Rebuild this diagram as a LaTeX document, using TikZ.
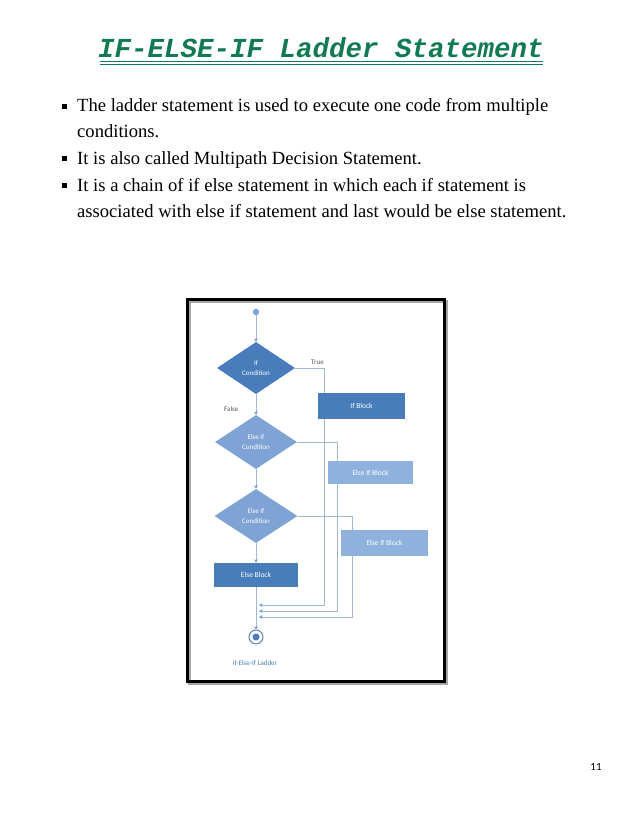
\documentclass[tikz,border=0pt]{standalone}
\usepackage{fontspec}
\setmainfont{Liberation Serif}
\newfontfamily\titlefont{Liberation Mono}
\newfontfamily\chartfont{Carlito}
\usetikzlibrary{
	arrows.meta,
	shapes.geometric,
	backgrounds
}
\definecolor{titlegreen}{RGB}{18,122,82}
\definecolor{darkblue}{RGB}{72,124,186}
\definecolor{lightblue}{RGB}{126,163,212}
\definecolor{paleblue}{RGB}{143,177,222}
\definecolor{wireblue}{RGB}{158,185,216}
\definecolor{labelgray}{RGB}{85,85,85}

\begin{document}
\begin{tikzpicture}[
			x=1pt, y=-1pt,
			font=\fontsize{18.6}{22}\selectfont,
			linha/.style={anchor=base west, inner sep=0},
			bala/.style={fill=black, minimum size=5pt, inner sep=0},
			cond/.style={diamond, fill=#1, text=white, inner sep=0, align=center, font=\chartfont\fontsize{7}{10}\selectfont},
			bloco/.style={fill=#1, text=white, inner sep=0, font=\chartfont\fontsize{7.5}{9}\selectfont},
			rot/.style={text=labelgray, inner sep=1pt, font=\chartfont\fontsize{7}{8}\selectfont},
			>={Stealth[length=3.5pt, width=3.5pt, color=darkblue!80]},
			fl/.style={->, wireblue, line width=1pt}
		]
		\useasboundingbox (0,0) rectangle (638,826);

		% titulo
		\node[anchor=base, inner sep=0, text=titlegreen, font=\titlefont\bfseries\itshape\fontsize{27.5}{30}\selectfont] (titulo) at (321,58) {IF-ELSE-IF Ladder Statement};
		\draw[titlegreen, line width=1.4pt] (100,61.6) -- (543,61.6);
		\draw[titlegreen, line width=1.4pt] (100,64.8) -- (543,64.8);

		% itens
		\node[bala] (b1) at (64.5,107) {};
		\node[bala] (b2) at (64.5,159) {};
		\node[bala] (b3) at (64.5,186) {};
		\node[linha] (l1) at (77,112) {The ladder statement is used to execute one code from multiple};
		\node[linha] (l2) at (77,138) {conditions.};
		\node[linha] (l3) at (77,164.5) {It is also called Multipath Decision Statement.};
		\node[linha] (l4) at (77,191.5) {It is a chain of if else statement in which each if statement is};
		\node[linha] (l5) at (77,218) {associated with else if statement and last would be else statement.};

		% moldura
		\draw[black!35, line width=3pt] (189,301) rectangle (446,683);
		\draw[black, line width=3pt] (187,299) rectangle (444,681);

		% fluxograma
		\node[circle, fill=lightblue, minimum size=6.5pt, inner sep=0] (inicio) at (256,312) {};
		\node[cond=darkblue, minimum width=78pt, minimum height=52pt] (if) at (256,368) {If\\Condition};
		\node[cond=lightblue, minimum width=82pt, minimum height=54pt] (elif1) at (256,442) {Else If\\Condition};
		\node[cond=lightblue, minimum width=83pt, minimum height=54pt] (elif2) at (256,516) {Else If\\Condition};
		\node[bloco=darkblue, minimum width=84pt, minimum height=24pt] (senao) at (256,575) {Else Block};
		\node[circle, draw=darkblue, line width=0.9pt, fill=white, minimum size=14pt, inner sep=0] (fim) at (256,637) {};
		\fill[darkblue] (fim.center) circle (3.5pt);
		\node[text=darkblue, font=\chartfont\fontsize{7}{8}\selectfont] (legenda) at (255,663) {If-Else-If Ladder};

		\coordinate (r1) at (324,605);
		\coordinate (r2) at (337,611);
		\coordinate (r3) at (352,617);
		\coordinate (m1) at (259,605);
		\coordinate (m2) at (259,611);
		\coordinate (m3) at (259,617);

		\draw[fl] (inicio) -- (if.north);
		\draw[fl] (if.south) -- (elif1.north);
		\draw[fl] (elif1.south) -- (elif2.north);
		\draw[fl] (elif2.south) -- (senao.north);
		\draw[fl] (senao.south) -- (fim.north);
		\draw[fl] (if.east) -| (r1) -- (m1);
		\draw[fl] (elif1.east) -| (r2) -- (m2);
		\draw[fl] (elif2.east) -| (r3) -- (m3);

		\node[bloco=darkblue, minimum width=87pt, minimum height=26pt] (ifbloco) at (361.5,406) {If Block};
		\node[bloco=paleblue, minimum width=85pt, minimum height=23pt] (elifbloco1) at (370.5,472.5) {Else If Block};
		\node[bloco=paleblue, minimum width=87pt, minimum height=26pt] (elifbloco2) at (384.5,543) {Else If Block};

		\node[rot, anchor=base west] (verdade) at (310,364) {True};
		\node[rot, anchor=base west] (falso) at (223,411) {False};

		% pagina
		\node[font=\chartfont\fontsize{11}{13}\selectfont] (pagina) at (596,767) {11};
\end{tikzpicture}
\end{document}
